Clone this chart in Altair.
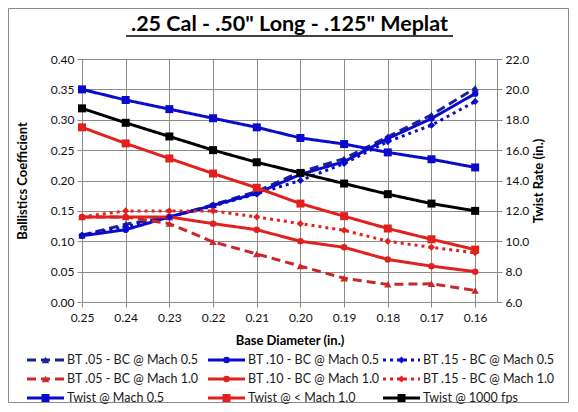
import altair as alt
import pandas as pd

# ---------------- data ----------------
diameters = [0.25, 0.24, 0.23, 0.22, 0.21, 0.20, 0.19, 0.18, 0.17, 0.16]

bt05_m05 = [0.110, 0.128, 0.140, 0.160, 0.182, 0.214, 0.236, 0.272, 0.308, 0.352]
bt10_m05 = [0.109, 0.119, 0.140, 0.159, 0.179, 0.210, 0.231, 0.269, 0.302, 0.343]
bt15_m05 = [0.110, 0.124, 0.140, 0.158, 0.178, 0.200, 0.228, 0.264, 0.291, 0.330]
bt05_m10 = [0.140, 0.140, 0.129, 0.099, 0.079, 0.059, 0.039, 0.029, 0.030, 0.019]
bt10_m10 = [0.140, 0.140, 0.140, 0.129, 0.119, 0.100, 0.090, 0.070, 0.059, 0.050]
bt15_m10 = [0.140, 0.150, 0.150, 0.150, 0.140, 0.129, 0.118, 0.100, 0.090, 0.081]

twist_m05 = [20.0, 19.3, 18.7, 18.1, 17.5, 16.8, 16.4, 15.85, 15.4, 14.86]
twist_m10 = [17.5, 16.44, 15.45, 14.46, 13.52, 12.48, 11.65, 10.84, 10.13, 9.45]
twist_1000 = [18.75, 17.8, 16.9, 16.0, 15.2, 14.5, 13.8, 13.1, 12.48, 12.0]

bc_names = ["BT .05 - BC @ Mach 0.5", "BT .10 - BC @ Mach 0.5", "BT .15 - BC @ Mach 0.5",
            "BT .05 - BC @ Mach 1.0", "BT .10 - BC @ Mach 1.0", "BT .15 - BC @  Mach 1.0"]
twist_names = ["Twist @ Mach 0.5", "Twist @ < Mach 1.0", "Twist @ 1000 fps"]
bc_series = [bt05_m05, bt10_m05, bt15_m05, bt05_m10, bt10_m10, bt15_m10]
twist_series = [twist_m05, twist_m10, twist_1000]

left_ticks = [0.0, 0.05, 0.10, 0.15, 0.20, 0.25, 0.30, 0.35, 0.40]
right_ticks = [6.0, 8.0, 10.0, 12.0, 14.0, 16.0, 18.0, 20.0, 22.0]

title_text = '.25 Cal - .50" Long - .125" Meplat'

# ---------------- styles ----------------
FONT = "Lato"
BLUE, DBLUE = "#0B0BCC", "#1A2396"
RED, DRED = "#E2201E", "#C9282A"
BLACK = "#000000"
GRID = "#8C8C84"

all_names = bc_names + twist_names
colors = [DBLUE, BLUE, BLUE, DRED, RED, RED, BLUE, RED, BLACK]
dashes = [[9, 5], [1, 0], [3, 4], [9, 5], [1, 0], [3, 4], [1, 0], [1, 0], [1, 0]]
shapes = ["triangle-up", "circle", "diamond", "triangle-up", "circle", "diamond",
          "square", "square", "square"]
marker_sizes = {"triangle-up": 55, "circle": 42, "diamond": 50, "square": 64}

W, H = 415, 243
PAD = {"left": 74, "top": 51, "right": 73, "bottom": 102}
SVG_W = PAD["left"] + W + PAD["right"]
SVG_H = PAD["top"] + H + PAD["bottom"]

color_scale = alt.Scale(domain=all_names, range=colors)
dash_scale = alt.Scale(domain=all_names, range=dashes)
x_scale = alt.Scale(domain=[0.155, 0.25], reverse=True, nice=False, zero=False)

x_axis = alt.Axis(values=diameters, format=".2f", grid=True, gridColor=GRID,
                  domainColor=GRID, tickColor=GRID, tickSize=5, labelPadding=5,
                  labelFlush=False,
                  labelFont=FONT, labelFontSize=12, labelColor="#111",
                  title="Base Diameter (in.)", titleFont=FONT, titleFontSize=13,
                  titleFontWeight="bold", titleColor="#000", titlePadding=11)
left_axis = alt.Axis(values=left_ticks, format=".2f", grid=True, gridColor=GRID,
                     domainColor=GRID, tickColor=GRID, tickSize=5, labelPadding=3,
                     labelFlush=False,
                     labelFont=FONT, labelFontSize=12, labelColor="#111",
                     title="Ballistics Coefficient", titleFont=FONT, titleFontSize=13,
                     titleFontWeight="bold", titleColor="#000", titlePadding=21)
right_axis = alt.Axis(orient="right", values=right_ticks, format=".1f", grid=False,
                      domainColor=GRID, tickColor=GRID, tickSize=5, labelPadding=3,
                      labelFlush=False,
                      labelFont=FONT, labelFontSize=12, labelColor="#111",
                      title="Twist Rate (in.)", titleAngle=270, titleFont=FONT,
                      titleFontSize=13, titleFontWeight="bold", titleColor="#000",
                      titlePadding=17)


def long_frame(names, series):
    rows = []
    for name, vals in zip(names, series):
        for d, v in zip(diameters, vals):
            rows.append({"series": name, "d": d, "v": v})
    return pd.DataFrame(rows)


def series_layer(df, names, y_scale, y_axis, x_axis_def):
    base = alt.Chart(df).encode(
        x=alt.X("d:Q", scale=x_scale, axis=x_axis_def),
        y=alt.Y("v:Q", scale=y_scale, axis=y_axis),
        color=alt.Color("series:N", scale=color_scale, legend=None),
    )
    layers = [base.mark_line(strokeWidth=3).encode(
        strokeDash=alt.StrokeDash("series:N", scale=dash_scale, legend=None))]
    for shp, sz in marker_sizes.items():
        sel = [n for n in names if shapes[all_names.index(n)] == shp]
        if sel:
            layers.append(base.transform_filter(
                alt.FieldOneOfPredicate(field="series", oneOf=sel)
            ).mark_point(shape=shp, size=sz, filled=True, opacity=1))
    return alt.layer(*layers)


bc_df = long_frame(bc_names, bc_series)
tw_df = long_frame(twist_names, twist_series)

bc_layer = series_layer(bc_df, bc_names,
                        alt.Scale(domain=[0, 0.4], nice=False, zero=False),
                        left_axis, x_axis)
tw_layer = series_layer(tw_df, twist_names,
                        alt.Scale(domain=[6, 22], nice=False, zero=False),
                        right_axis, None)

# ---------------- custom legend (3 x 3) ----------------
col_x = [19, 200, 375]      # svg pixels
row_y = [352, 371, 390]
SEG = 37
leg_line_rows, leg_pt_rows, leg_txt_rows = [], [], []
for i, name in enumerate(all_names):
    x0, y0 = col_x[i % 3], row_y[i // 3]
    leg_line_rows += [{"series": name, "lx": x0, "ly": y0},
                      {"series": name, "lx": x0 + SEG, "ly": y0}]
    leg_pt_rows.append({"series": name, "lx": x0 + SEG / 2, "ly": y0})
    leg_txt_rows.append({"series": name, "lx": x0 + SEG + 3, "ly": y0})

leg_x = alt.X("lx:Q", scale=alt.Scale(domain=[0, SVG_W], range=[-PAD["left"], SVG_W - PAD["left"]],
                                      nice=False, zero=False), axis=None)
leg_y = alt.Y("ly:Q", scale=alt.Scale(domain=[0, SVG_H], range=[-PAD["top"], SVG_H - PAD["top"]],
                                      nice=False, zero=False), axis=None)
leg_color = alt.Color("series:N", scale=color_scale, legend=None)

leg_layers = [alt.Chart(pd.DataFrame(leg_line_rows)).mark_line(strokeWidth=3).encode(
    x=leg_x, y=leg_y, color=leg_color, detail="series:N",
    strokeDash=alt.StrokeDash("series:N", scale=dash_scale, legend=None))]
pt_df = pd.DataFrame(leg_pt_rows)
for shp, sz in marker_sizes.items():
    sel = [n for n, s in zip(all_names, shapes) if s == shp]
    leg_layers.append(alt.Chart(pt_df).transform_filter(
        alt.FieldOneOfPredicate(field="series", oneOf=sel)
    ).mark_point(shape=shp, size=sz, filled=True, opacity=1).encode(
        x=leg_x, y=leg_y, color=leg_color))
leg_layers.append(alt.Chart(pd.DataFrame(leg_txt_rows)).mark_text(
    align="left", baseline="middle", font=FONT, fontSize=12.5, color="#1a1a1a").encode(
    x=leg_x, y=leg_y, text="series:N"))
legend_layer = alt.layer(*leg_layers)

# ---------------- title and decorations ----------------
dummy = pd.DataFrame({"k": [0]})
frame = alt.Chart(dummy).mark_rect(fillOpacity=0, stroke="#8a8a8a", strokeWidth=1).encode(
    x=alt.value(-PAD["left"] + 0.5), x2=alt.value(SVG_W - PAD["left"] - 1.5),
    y=alt.value(-PAD["top"] + 0.5), y2=alt.value(SVG_H - PAD["top"] - 1.5))
title_mark = alt.Chart(pd.DataFrame({"t": [title_text]})).mark_text(
    font=FONT, fontSize=21.5, fontWeight="bold", color="#000",
    align="center", baseline="alphabetic").encode(
    x=alt.value(W / 2), y=alt.value(-28), text="t:N")
underline = alt.Chart(dummy).mark_rule(color="#000", strokeWidth=1.5).encode(
    x=alt.value(44), x2=alt.value(371), y=alt.value(-23))

chart = alt.layer(frame, bc_layer, tw_layer, legend_layer, title_mark, underline).resolve_scale(
    x="independent", y="independent"
).properties(
    width=W, height=H, padding=PAD,
    autosize=alt.AutoSizeParams(type="none"),
).configure_view(fill="#FFFFCC", stroke=None).configure(background="white")

chart.save("out.html", embed_options={"renderer": "svg", "actions": False})
